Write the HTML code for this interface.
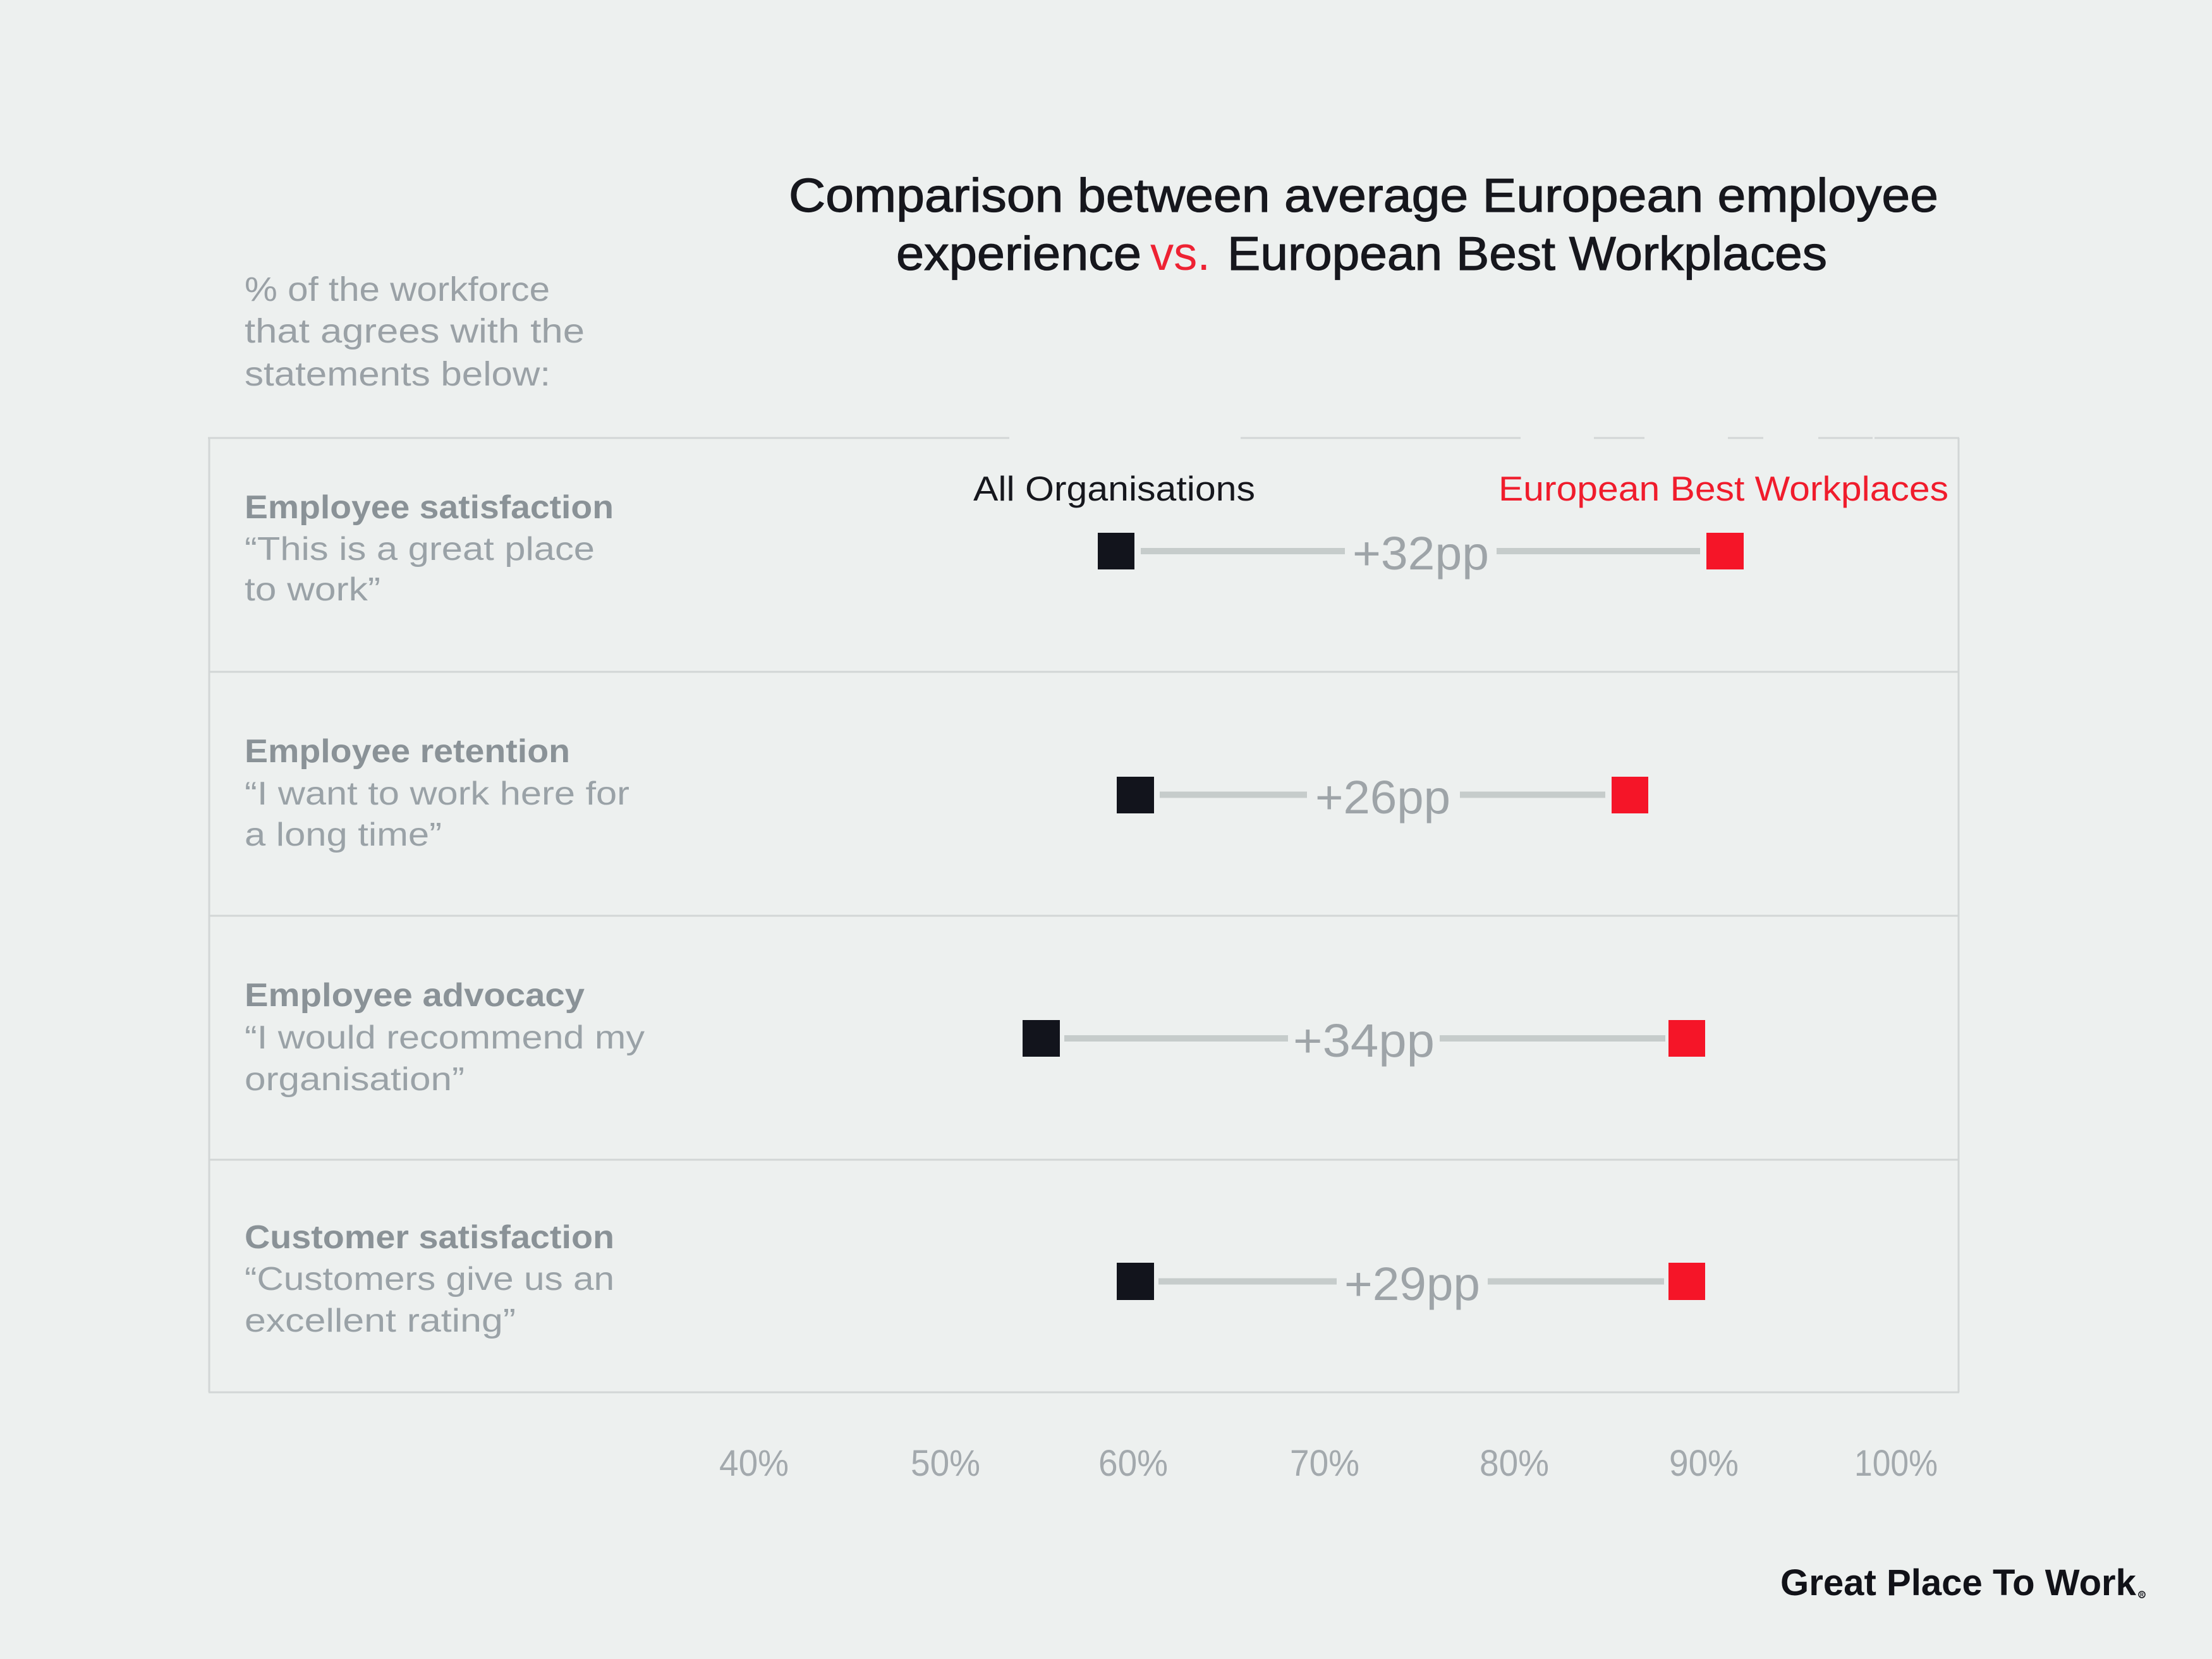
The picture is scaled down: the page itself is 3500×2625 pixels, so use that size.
<!DOCTYPE html>
<html>
<head>
<meta charset="utf-8">
<style>
  html, body { margin: 0; padding: 0; background: #edf0ef; }
  svg { display: block; }
  text { font-family: "Liberation Sans", sans-serif; }
</style>
</head>
<body>
<svg width="3500" height="2625" viewBox="0 0 3500 2625" xmlns="http://www.w3.org/2000/svg">
  <rect x="0" y="0" width="3500" height="2625" fill="#edf0ef"/>

  <!-- Title -->
  <g stroke-width="1.2">
    <text x="1248" y="335" font-size="75" fill="#16171d" stroke="#16171d" textLength="1819" lengthAdjust="spacingAndGlyphs">Comparison between average European employee</text>
    <text x="1418" y="427" font-size="75" fill="#16171d" stroke="#16171d" textLength="388" lengthAdjust="spacingAndGlyphs">experience</text>
    <text x="1820" y="427" font-size="75" fill="#ee2233" textLength="95" lengthAdjust="spacingAndGlyphs">vs.</text>
    <text x="1942" y="427" font-size="75" fill="#16171d" stroke="#16171d" textLength="949" lengthAdjust="spacingAndGlyphs">European Best Workplaces</text>
  </g>

  <!-- Subtitle -->
  <g font-size="54" fill="#9aa1a6">
    <text x="387" y="476" textLength="483" lengthAdjust="spacingAndGlyphs">% of the workforce</text>
    <text x="387" y="542" textLength="538" lengthAdjust="spacingAndGlyphs">that agrees with the</text>
    <text x="387" y="610" textLength="484" lengthAdjust="spacingAndGlyphs">statements below:</text>
  </g>

  <!-- Box -->
  <g stroke="#d2d6d6" stroke-width="3" fill="none">
    <line x1="331" y1="693" x2="331" y2="2203"/>
    <line x1="3099" y1="693" x2="3099" y2="2203"/>
    <line x1="330" y1="2203" x2="3100" y2="2203"/>
    <line x1="331" y1="1063" x2="3099" y2="1063"/>
    <line x1="331" y1="1449" x2="3099" y2="1449"/>
    <line x1="331" y1="1835" x2="3099" y2="1835"/>
    <line x1="329" y1="693" x2="1597" y2="693"/>
    <line x1="1963" y1="693" x2="2406" y2="693"/>
    <line x1="2522" y1="693" x2="2602" y2="693"/>
    <line x1="2734" y1="693" x2="2790" y2="693"/>
    <line x1="2877" y1="693" x2="2963" y2="693"/>
    <line x1="2966" y1="693" x2="3100" y2="693"/>
  </g>

  <!-- Legend -->
  <text x="1540" y="792" font-size="55" fill="#16171d" textLength="446" lengthAdjust="spacingAndGlyphs">All Organisations</text>
  <text x="2371" y="792" font-size="55" fill="#f01c2c" textLength="712" lengthAdjust="spacingAndGlyphs">European Best Workplaces</text>

  <!-- Row labels -->
  <g fill="#8a9297" font-size="52" font-weight="bold">
    <text x="387" y="820" textLength="584" lengthAdjust="spacingAndGlyphs">Employee satisfaction</text>
    <text x="387" y="1206" textLength="515" lengthAdjust="spacingAndGlyphs">Employee retention</text>
    <text x="387" y="1592" textLength="538" lengthAdjust="spacingAndGlyphs">Employee advocacy</text>
    <text x="387" y="1975" textLength="585" lengthAdjust="spacingAndGlyphs">Customer satisfaction</text>
  </g>
  <g fill="#9aa2a7" font-size="52">
    <text x="387" y="886" textLength="554" lengthAdjust="spacingAndGlyphs">“This is a great place</text>
    <text x="387" y="950" textLength="215" lengthAdjust="spacingAndGlyphs">to work”</text>
    <text x="387" y="1273" textLength="609" lengthAdjust="spacingAndGlyphs">“I want to work here for</text>
    <text x="387" y="1338" textLength="312" lengthAdjust="spacingAndGlyphs">a long time”</text>
    <text x="387" y="1659" textLength="633" lengthAdjust="spacingAndGlyphs">“I would recommend my</text>
    <text x="387" y="1725" textLength="348" lengthAdjust="spacingAndGlyphs">organisation”</text>
    <text x="387" y="2041" textLength="585" lengthAdjust="spacingAndGlyphs">“Customers give us an</text>
    <text x="387" y="2107" textLength="429" lengthAdjust="spacingAndGlyphs">excellent rating”</text>
  </g>

  <!-- Connector lines -->
  <g stroke="#c6cccb" stroke-width="10" stroke-linecap="butt">
    <line x1="1805" y1="872" x2="2128" y2="872"/>
    <line x1="2368" y1="872" x2="2690" y2="872"/>
    <line x1="1835" y1="1257.5" x2="2068" y2="1257.5"/>
    <line x1="2310" y1="1257.5" x2="2540" y2="1257.5"/>
    <line x1="1684" y1="1643" x2="2038" y2="1643"/>
    <line x1="2278" y1="1643" x2="2635" y2="1643"/>
    <line x1="1833" y1="2027.5" x2="2115" y2="2027.5"/>
    <line x1="2354" y1="2027.5" x2="2633" y2="2027.5"/>
  </g>

  <!-- Markers -->
  <g fill="#12141c">
    <rect x="1737" y="843" width="58" height="58"/>
    <rect x="1767" y="1229" width="59" height="58"/>
    <rect x="1618" y="1614" width="59" height="58"/>
    <rect x="1767" y="1998" width="59" height="59"/>
  </g>
  <g fill="#f51528">
    <rect x="2700" y="843" width="59" height="58"/>
    <rect x="2550" y="1229" width="58" height="58"/>
    <rect x="2640" y="1614" width="58" height="58"/>
    <rect x="2640" y="1998" width="58" height="59"/>
  </g>

  <!-- Difference labels -->
  <g fill="#9ea4a8" font-size="74">
    <text x="2140" y="901" textLength="216" lengthAdjust="spacingAndGlyphs">+32pp</text>
    <text x="2081" y="1287" textLength="214" lengthAdjust="spacingAndGlyphs">+26pp</text>
    <text x="2046" y="1672" textLength="224" lengthAdjust="spacingAndGlyphs">+34pp</text>
    <text x="2127" y="2057" textLength="215" lengthAdjust="spacingAndGlyphs">+29pp</text>
  </g>

  <!-- Axis labels -->
  <g fill="#a3a9ad" font-size="58">
    <text x="1138" y="2335" textLength="110" lengthAdjust="spacingAndGlyphs">40%</text>
    <text x="1441" y="2335" textLength="110" lengthAdjust="spacingAndGlyphs">50%</text>
    <text x="1738" y="2335" textLength="110" lengthAdjust="spacingAndGlyphs">60%</text>
    <text x="2041" y="2335" textLength="110" lengthAdjust="spacingAndGlyphs">70%</text>
    <text x="2341" y="2335" textLength="110" lengthAdjust="spacingAndGlyphs">80%</text>
    <text x="2641" y="2335" textLength="110" lengthAdjust="spacingAndGlyphs">90%</text>
    <text x="2934" y="2335" textLength="132" lengthAdjust="spacingAndGlyphs">100%</text>
  </g>

  <!-- Logo -->
  <text x="2817" y="2524" font-size="58" font-weight="bold" fill="#111218" textLength="563" lengthAdjust="spacingAndGlyphs">Great Place To Work</text>
  <circle cx="3389" cy="2523" r="5" fill="none" stroke="#111218" stroke-width="1.5"/>
  <text x="3389" y="2526" font-size="8" font-weight="bold" fill="#111218" text-anchor="middle">R</text>
</svg>
</body>
</html>
